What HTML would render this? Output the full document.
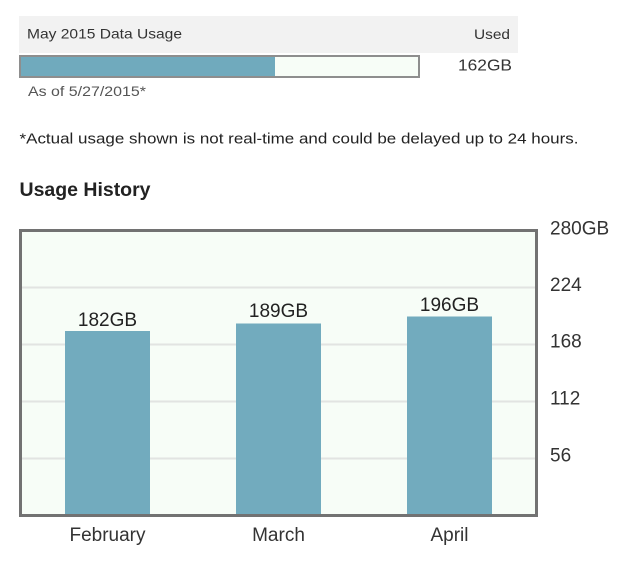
<!DOCTYPE html>
<html>
<head>
<meta charset="utf-8">
<style>
  html, body { margin: 0; padding: 0; background: #ffffff; }
  svg { display: block; }
  text { font-family: "Liberation Sans", Arial, sans-serif; }
</style>
</head>
<body>
<svg width="640" height="570" viewBox="0 0 640 570" xmlns="http://www.w3.org/2000/svg">
  <rect x="0" y="0" width="640" height="570" fill="#ffffff"/>

  <!-- header band -->
  <rect x="19" y="16" width="499" height="37" fill="#f2f2f2"/>
  <text x="27" y="38.5" font-size="14" fill="#333" textLength="155" lengthAdjust="spacingAndGlyphs">May 2015 Data Usage</text>
  <text x="474" y="39" font-size="14" fill="#333" textLength="36" lengthAdjust="spacingAndGlyphs">Used</text>

  <!-- progress bar -->
  <rect x="20" y="56" width="399" height="21" fill="#f7fdf7" stroke="#8e8e8e" stroke-width="2"/>
  <rect x="21" y="57" width="254" height="19" fill="#70aabd"/>
  <text x="458" y="70.5" font-size="16" fill="#333" textLength="54" lengthAdjust="spacingAndGlyphs">162GB</text>

  <text x="28" y="96" font-size="13.5" fill="#555" textLength="118" lengthAdjust="spacingAndGlyphs">As of  5/27/2015*</text>

  <text x="19.5" y="143.5" font-size="15" fill="#222" textLength="559" lengthAdjust="spacingAndGlyphs">*Actual usage shown is not real-time and could be delayed up to 24 hours.</text>

  <text x="19.5" y="196" font-size="19" font-weight="bold" fill="#222" textLength="131" lengthAdjust="spacingAndGlyphs">Usage History</text>

  <!-- chart -->
  <rect x="20.5" y="230.5" width="516" height="285" fill="#f7fdf7"/>
  <g stroke="#e2e4e2" stroke-width="2">
    <line x1="22" y1="287.5" x2="535" y2="287.5"/>
    <line x1="22" y1="344.5" x2="535" y2="344.5"/>
    <line x1="22" y1="401.5" x2="535" y2="401.5"/>
    <line x1="22" y1="458.5" x2="535" y2="458.5"/>
  </g>
  <g fill="#72abbe">
    <rect x="65" y="331" width="85" height="184.5"/>
    <rect x="236" y="323.5" width="85" height="192"/>
    <rect x="407" y="316.5" width="85" height="199"/>
  </g>
  <rect x="20.5" y="230.5" width="516" height="285" fill="none" stroke="#727272" stroke-width="3"/>

  <g font-size="19" fill="#222" text-anchor="middle">
    <text x="107.5" y="326">182GB</text>
    <text x="278.5" y="317">189GB</text>
    <text x="449.5" y="311">196GB</text>
  </g>

  <g font-size="19" fill="#333">
    <text x="550" y="234.5">280GB</text>
    <text x="550" y="291">224</text>
    <text x="550" y="347.5">168</text>
    <text x="550" y="404.5">112</text>
    <text x="550" y="461.5">56</text>
  </g>

  <g font-size="19" fill="#333" text-anchor="middle">
    <text x="107.5" y="541">February</text>
    <text x="278.5" y="541">March</text>
    <text x="449.5" y="541">April</text>
  </g>
</svg>
</body>
</html>
